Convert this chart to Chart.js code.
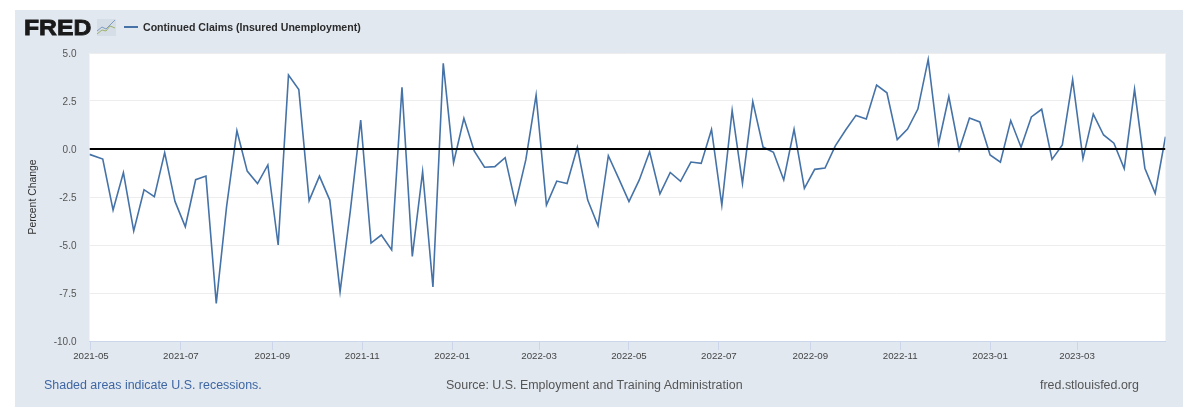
<!DOCTYPE html>
<html>
<head>
<meta charset="utf-8">
<title>Continued Claims (Insured Unemployment)</title>
<script src="https://cdn.jsdelivr.net/npm/chart.js@4/dist/chart.umd.min.js"></script>
<style>
html,body{margin:0;padding:0;background:#fff;width:1200px;height:417px;overflow:hidden}
body{font-family:"Liberation Sans",Arial,sans-serif;position:relative}
#panel{position:absolute;left:15px;top:10px;width:1168px;height:397px;background:#e1e8f0}
#c{position:absolute;left:0;top:0}
.t{position:absolute;white-space:nowrap}
#logo{left:24px;top:14px;font-size:22.5px;line-height:27px;font-weight:bold;color:#1a1a1a;-webkit-text-stroke:.8px #1a1a1a;transform:scaleX(1.1);transform-origin:left center}
#icon{position:absolute;left:97px;top:19px}
#key{position:absolute;left:124px;top:26px;width:14px;height:2px;background:#4572a7}
#name{left:143px;top:20px;font-size:10.6px;line-height:14px;font-weight:bold;color:#2b2b2b}
.foot{top:378px;font-size:12.45px;line-height:15px;color:#555}
#rec{left:44px;color:#3e66a3}
#src{left:446px}
#url{left:1040px}
</style>
</head>
<body>
<div id="panel"></div>
<canvas id="c" width="1200" height="417"></canvas>
<div class="t" id="logo">FRED</div>
<svg id="icon" width="19" height="17" viewBox="0 0 19 17">
  <rect width="19" height="17" fill="#d5dde6"/>
  <polyline points="0,15 5,11 9,12 13,7 18,9" fill="none" stroke="#9fb26a" stroke-width="1"/>
  <polyline points="0,12 5,8 9,10 14,5 18,1" fill="none" stroke="#7f9cc0" stroke-width="1"/>
</svg>
<div id="key"></div>
<div class="t" id="name">Continued Claims (Insured Unemployment)</div>
<div class="t foot" id="rec">Shaded areas indicate U.S. recessions.</div>
<div class="t foot" id="src">Source: U.S. Employment and Training Administration</div>
<div class="t foot" id="url">fred.stlouisfed.org</div>
<script>
const seriesName = 'Continued Claims (Insured Unemployment)';
const firstDate = '2021-04-30';
const firstWeek = '2021-05-09';
const lastDate = '2023-04-30';
const tickLabels = ['2021-05','2021-07','2021-09','2021-11','2022-01','2022-03','2022-05','2022-07','2022-09','2022-11','2023-01','2023-03'];
const claimsChange = [
 -0.28,-0.52,-3.18,-1.23,-4.27,-2.12,-2.48,-0.19,-2.73,-4.05,-1.60,-1.41,-8.04,-3.00,0.95,-1.15,-1.80,-0.83,-5.00,3.85,
 3.10,-2.69,-1.41,-2.66,-7.43,-3.20,1.51,-4.90,-4.48,-5.26,3.21,-5.59,-1.18,-7.19,4.46,-0.71,1.60,-0.10,-0.95,-0.92,
 -0.45,-2.85,-0.57,2.80,-2.92,-1.67,-1.80,0.09,-2.66,-4.00,-0.35,-1.53,-2.74,-1.61,-0.14,-2.34,-1.22,-1.68,-0.68,-0.75,
 1.02,-2.93,2.01,-1.79,2.47,0.10,-0.17,-1.61,1.02,-2.05,-1.06,-0.99,0.16,0.99,1.75,1.56,3.33,2.93,0.49,1.04,
 2.08,4.67,0.26,2.73,-0.05,1.61,1.41,-0.31,-0.69,1.48,0.09,1.67,2.07,-0.54,0.21,3.61,-0.50,1.82,0.73,0.30,
 -1.02,3.11,-1.00,-2.31,0.64
];
const yMin = -10, yMax = 5, yStep = 2.5;

const DAY = 86400000;
const ms = s => Date.parse(s + (s.length === 7 ? '-01' : '') + 'T00:00:00Z');
const xMin = ms(firstDate), xMax = ms(lastDate);
const points = claimsChange.map((v, i) => ({
  x: i === 0 ? xMin : ms(firstWeek) + (i - 1) * 7 * DAY,
  y: v
}));
const tickMs = tickLabels.map(ms);
const textFont = '"Liberation Sans", Arial, sans-serif';

new Chart(document.getElementById('c'), {
  type: 'line',
  data: {
    datasets: [
      { label: 'Zero', data: [{x: xMin, y: 0}, {x: xMax, y: 0}], borderColor: '#000', borderWidth: 2, pointRadius: 0, order: 0 },
      { label: seriesName, data: points, borderColor: '#4572a7', borderWidth: 1.6, pointRadius: 0, tension: 0, order: 1 }
    ]
  },
  options: {
    responsive: false,
    animation: false,
    parsing: false,
    devicePixelRatio: 1,
    layout: { padding: { left: 0, top: 53, right: 34.5, bottom: 0 } },
    plugins: {
      legend: { display: false },
      tooltip: { enabled: false }
    },
    scales: {
      x: {
        type: 'linear',
        min: xMin,
        max: xMax,
        afterBuildTicks: s => { s.ticks = tickMs.map(v => ({ value: v })); },
        afterFit: s => { s.height = 76; },
        border: { color: '#ccd6eb', width: 1 },
        grid: { drawOnChartArea: false, drawTicks: true, tickLength: 9, color: '#ccd6eb' },
        ticks: {
          autoSkip: false, maxRotation: 0, minRotation: 0, padding: 1,
          color: '#444', font: { family: textFont, size: 9.7 },
          callback: v => tickLabels[tickMs.indexOf(v)]
        }
      },
      y: {
        min: yMin,
        max: yMax,
        afterFit: s => { s.width = 89.5; },
        border: { display: false },
        grid: { color: '#ededed', lineWidth: 1, drawTicks: false },
        title: { display: true, text: 'Percent Change', color: '#333', font: { family: textFont, size: 10.4 }, padding: { top: 27, bottom: 0 } },
        ticks: {
          stepSize: yStep, padding: 13,
          color: '#555', font: { family: textFont, size: 10 },
          callback: v => Number(v).toFixed(1)
        }
      }
    }
  },
  plugins: [{
    id: 'plotBackground',
    beforeDraw(chart) {
      const a = chart.chartArea, ctx = chart.ctx;
      ctx.save(); ctx.fillStyle = '#fff';
      ctx.fillRect(a.left, a.top, a.right - a.left, a.bottom - a.top);
      ctx.restore();
      chart.scales.y.getLabelItems().forEach(item => { item.options.translation[1] += 1.5; });
    }
  }]
});
</script>
</body>
</html>
